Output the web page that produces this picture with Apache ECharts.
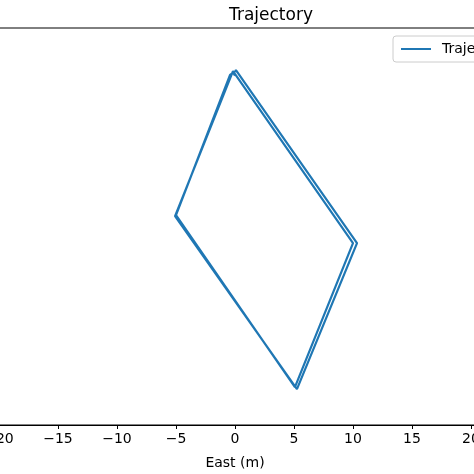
<!DOCTYPE html>
<html><head><meta charset="utf-8">
<script src="https://cdn.jsdelivr.net/npm/echarts@6/dist/echarts.min.js"></script>
<style>html,body{margin:0;padding:0;background:#fff;overflow:hidden;width:474px;height:474px;position:relative;}
#c{position:absolute;left:-60px;top:0;width:590px;height:474px;}</style>
</head><body><div id="c"></div>
<script>
// Trajectory points: East (m), North (m)
const east  = [0.0, 0.08, 10.34, 5.25, -5.08, -0.17, 10.0, 5.08, -5.0, -0.42, -0.15, 0.0];
const north = [0.0, 0.17, -14.49, -26.86, -12.2, 0.08, -14.49, -26.69, -12.12, -0.25, -0.05, -0.3];
const xTicks = [-25, -20, -15, -10, -5, 0, 5, 10, 15, 20, 25];
const seriesName = 'Trajectory';

const OFF = 60; // the chart canvas starts 60px left of the window
const pts = east.map((e, i) => [e, north[i]]);
const FONT = 'DejaVu Sans';
const chart = echarts.init(document.getElementById('c'), null, {renderer: 'canvas'});
chart.setOption({
  animation: false,
  backgroundColor: '#fff',
  title: {
    text: 'Trajectory', left: 266 + OFF, top: 2, textAlign: 'center',
    textStyle: {fontFamily: FONT, fontSize: 17, fontWeight: 'normal', color: '#000'}
  },
  legend: {
    left: 393 + OFF, top: 36, padding: [6, 8], itemGap: 10,
    borderColor: '#ccc', borderWidth: 1, borderRadius: 3,
    icon: 'rect', itemWidth: 30, itemHeight: 2,
    textStyle: {fontFamily: FONT, fontSize: 14, color: '#000', padding: [0, 0, 0, 6]},
    data: [seriesName]
  },
  grid: {
    left: 0, top: 28, width: 590, height: 397,
    show: true, borderColor: '#000', borderWidth: 1, backgroundColor: 'transparent',
    containLabel: false, outerBoundsMode: 'none'
  },
  xAxis: {
    type: 'value', min: xTicks[0], max: xTicks[xTicks.length - 1], interval: 5,
    name: 'East (m)', nameLocation: 'middle', nameGap: 31,
    nameTextStyle: {fontFamily: FONT, fontSize: 14, color: '#000'},
    axisLine: {onZero: false, lineStyle: {color: '#000', width: 1}},
    axisTick: {show: true, inside: false, length: 4, lineStyle: {color: '#000'}},
    axisLabel: {
      fontFamily: FONT, fontSize: 14, color: '#000', margin: 7,
      formatter: v => (v < 0 ? '\u2212' + (-v) : String(v))
    },
    splitLine: {show: false}
  },
  yAxis: {
    type: 'value', min: -29.9, max: 3.73,
    axisLine: {show: false}, axisTick: {show: false}, axisLabel: {show: false},
    splitLine: {show: false}
  },
  series: [{
    name: seriesName, type: 'line', data: pts, showSymbol: false, symbol: 'none',
    lineStyle: {color: '#1f77b4', width: 2.2}, itemStyle: {color: '#1f77b4'}
  }]
});
</script></body></html>
